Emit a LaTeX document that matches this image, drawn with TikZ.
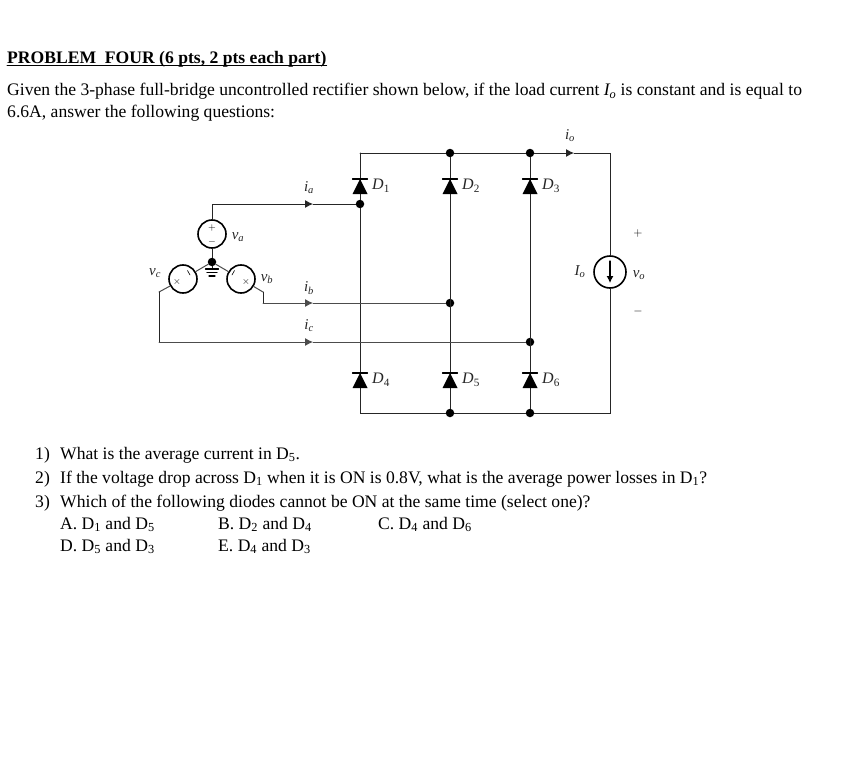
\documentclass[tikz,border=0pt]{standalone}
\usepackage{fontspec}
\setmainfont{Liberation Serif}
\usepackage{xcolor}
\usetikzlibrary{arrows.meta}

\newcommand{\lab}[2]{\textit{#1\textsubscript{#2}}}

\begin{document}
\begin{tikzpicture}[
    x=1pt,y=-1pt,
    line cap=round,
    %styles
    wire/.style={line width=1pt,wirecolor},
    thin wire/.style={line width=1pt,feedcolor},
    flow/.style={-{Latex[length=8pt,width=8pt]}},
    junction/.style={circle,fill=black,inner sep=0pt,minimum size=8.5pt},
    source/.style={circle,draw=black,line width=1.6pt,fill=white,inner sep=0pt,minimum size=28pt},
    line text/.style={anchor=base west,inner sep=0pt,font=\fontsize{17.6}{20}\selectfont},
    circuit label/.style={inner sep=0pt,labelcolor,font=\fontsize{15}{16}\selectfont},
    mark text/.style={inner sep=0pt,font=\fontsize{10}{10}\selectfont},
  ]
  %colors
  \colorlet{wirecolor}{black!85}
  \colorlet{feedcolor}{black!70}
  \colorlet{labelcolor}{black!85}
  \useasboundingbox[fill=white] (0,0) rectangle (842,781);

  %text
  \node[line text] (title) at (7,63.5) {\textbf{PROBLEM\ \ FOUR (6 pts, 2 pts each part)}};
  \draw[line width=1pt] ([yshift=-2.2pt]title.base west) -- ([yshift=-2.2pt]title.base east);
  \node[line text] (intro one) at (7,95.5) {Given the 3-phase full-bridge uncontrolled rectifier shown below, if the load current \textit{I\textsubscript{o}} is constant and is equal to};
  \node[line text] (intro two) at (7,117.5) {6.6A, answer the following questions:};
  \foreach \y/\num/\qtext in {459/1/What is the average current in D\textsubscript{5}.,
    483/2/{If the voltage drop across D\textsubscript{1} when it is ON is 0.8V, what is the average power losses in D\textsubscript{1}?},
    507/3/Which of the following diodes cannot be ON at the same time (select one)?}
  {
    \node[line text] (num \num) at (35,\y) {\num)};
    \node[line text] (question \num) at (60,\y) {\qtext};
  }
  \node[line text] (option a) at (60,529) {A. D\textsubscript{1} and D\textsubscript{5}};
  \node[line text] (option b) at (218,529) {B. D\textsubscript{2} and D\textsubscript{4}};
  \node[line text] (option c) at (378,529) {C. D\textsubscript{4} and D\textsubscript{6}};
  \node[line text] (option d) at (60,551) {D. D\textsubscript{5} and D\textsubscript{3}};
  \node[line text] (option e) at (218,551) {E. D\textsubscript{4} and D\textsubscript{3}};

  %sources
  \node[source] (va) at (212,234) {};
  \node[source] (vb) at (241,279) {};
  \node[source] (vc) at (183,279) {};
  \node[source,minimum size=32pt] (load) at (610,272) {};
  \node[junction] (star) at (212,262) {};

  %junctions
  \node[junction] (top two) at (450,153) {};
  \node[junction] (top three) at (530,153) {};
  \node[junction] (leg a) at (360,204) {};
  \node[junction] (leg b) at (450,303) {};
  \node[junction] (leg c) at (530,342) {};
  \node[junction] (bottom two) at (450,413) {};
  \node[junction] (bottom three) at (530,413) {};

  \coordinate (top left) at (360,153);
  \coordinate (top right) at (610,153);
  \coordinate (bottom left) at (360,413);
  \coordinate (bottom right) at (610,413);
  \coordinate (a corner) at (212,204);
  \coordinate (a arrow) at (313,204);
  \coordinate (b corner) at (263,292);
  \coordinate (b foot) at (263,303);
  \coordinate (b arrow) at (313,303);
  \coordinate (c corner) at (159,292);
  \coordinate (c foot) at (159,342);
  \coordinate (c arrow) at (313,342);
  \coordinate (o arrow) at (574,153);

  %rails and legs
  \draw[wire,flow] (top left) -- (top two) -- (top three) -- (o arrow);
  \draw[wire] (o arrow) -- (top right) -- (load);
  \draw[wire] (load) -- (bottom right) -- (bottom three) -- (bottom two) -- (bottom left) -- (leg a) -- (top left);
  \draw[wire] (top two) -- (bottom two);
  \draw[wire] (top three) -- (bottom three);

  %feeds
  \draw[wire] (va) -- (star);
  \draw[thin wire] (star) -- (vb);
  \draw[thin wire] (star) -- (vc);
  \draw[wire,flow] (va) -- (a corner) -- (a arrow);
  \draw[wire] (a arrow) -- (leg a);
  \draw[thin wire] (vb) -- (b corner);
  \draw[wire] (b corner) -- (b foot);
  \draw[thin wire,flow] (b foot) -- (b arrow);
  \draw[thin wire] (b arrow) -- (leg b);
  \draw[thin wire] (vc) -- (c corner);
  \draw[wire] (c corner) -- (c foot);
  \draw[thin wire,flow] (c foot) -- (c arrow);
  \draw[thin wire] (c arrow) -- (leg c);

  %diodes
  \foreach \x/\y/\name/\num in {360/179/D1/1,450/179/D2/2,530/179/D3/3,360/373/D4/4,450/373/D5/5,530/373/D6/6}
  {
    \fill[black] (\x-7.5,\y+15) -- (\x+7.5,\y+15) -- (\x,\y) -- cycle;
    \draw[line width=1.2pt] (\x-7.5,\y) -- (\x+7.5,\y);
    \node[circuit label,anchor=west] (\name) at (\x+12,\y+7) {\fontsize{16}{18}\selectfont\textit{D}\textsubscript{\num}};
  }

  %ground
  \draw[wire] (star) -- (212,269);
  \draw[line width=1.1pt] (205.5,269) -- (218.5,269);
  \draw[line width=1.1pt] (207,272.5) -- (217,272.5);
  \draw[line width=1.1pt] (209,276) -- (215,276);

  %signs in the sources
  \node[mark text] (va plus) at (212,228) {$+$};
  \node[mark text] (va minus) at (212,242) {$-$};
  \node[mark text] (vb cross) at (246,282) {$\times$};
  \node[mark text] (vc cross) at (177,282) {$\times$};
  \draw[line width=.6pt] (232,275) -- (234.5,270.5);
  \draw[line width=.6pt] (190,275) -- (187.5,270.5);

  %load arrow
  \draw[line width=1.1pt,-{Latex[length=7pt,width=7pt]}] (610,261) -- (610,283);

  %labels
  \node[circuit label] (ia) at (309,188) {\lab{i}{a}};
  \node[circuit label] (ib) at (309,288) {\lab{i}{b}};
  \node[circuit label] (ic) at (309,326) {\lab{i}{c}};
  \node[circuit label] (io) at (570,136) {\lab{i}{o}};
  \node[circuit label] (lva) at (238,237) {\lab{v}{a}};
  \node[circuit label] (lvb) at (267,279) {\lab{v}{b}};
  \node[circuit label] (lvc) at (155,273) {\lab{v}{c}};
  \node[circuit label] (Io) at (580,272) {\lab{I}{o}};
  \node[circuit label] (vo) at (639,275) {\lab{v}{o}};
  \node[circuit label,text=black,font=\fontsize{12}{12}\selectfont] (plus) at (638,233) {$+$};
  \node[circuit label,text=black,font=\fontsize{12}{12}\selectfont] (minus) at (638,311) {$-$};
\end{tikzpicture}
\end{document}
